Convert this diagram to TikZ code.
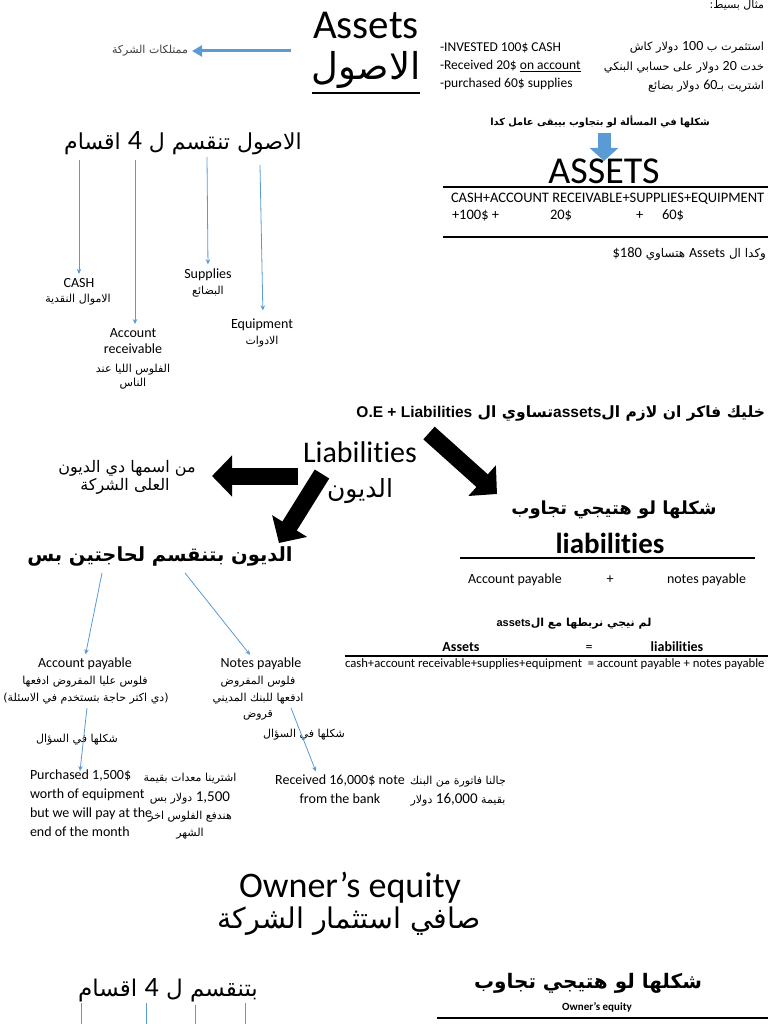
\documentclass[tikz,border=0pt]{standalone}
\usepackage{fontspec}
\setmainfont{Carlito}[Ligatures=CommonOff]
\newfontfamily\arabicfont[Script=Arabic]{DejaVu Sans}
\newfontfamily\arialfont{Liberation Sans}
\TeXXeTstate=1
\usetikzlibrary{arrows.meta}
\definecolor{lblue}{HTML}{5B9BD5}
\definecolor{dgray}{HTML}{404040}
\newcommand{\fsz}[2]{\fontsize{#1}{#2}\selectfont}
\begin{document}
\begin{tikzpicture}[x=1pt,y=-1pt,
  txt/.style={inner sep=0pt, outer sep=0pt},
  ar/.style={txt},
  bluearrow/.style={draw=lblue, line width=0.8pt, -{Stealth[length=5pt,width=4.5pt]}},
  blockarrow/.style={draw=black, line width=17pt, -{Triangle[length=20pt,width=40pt]}},
  rule/.style={draw=black, line width=1.6pt},
  bluerule/.style={draw=lblue, line width=0.8pt}]
\useasboundingbox (0,0) rectangle (768,1024);
\fill[white] (0,0) rectangle (768,1024);

% ---- Assets title
\node[txt, anchor=base, font=\fsz{41}{45}] (assetsT) at (366,39) {Assets};
\node[ar, anchor=base, font={\arabicfont\fsz{37}{40}}] (asoolT) at (366,80) {\beginR الاصول\endR};
\draw[rule] (312,93) -- (420,93);
\node[ar, anchor=east, font={\arabicfont\fsz{11}{13}}, text=dgray] (mamt) at (188,51) {\beginR ممتلكات الشركة\endR};
\coordinate (aArrS) at (291,51);
\draw[draw=lblue, line width=3pt, -{Triangle[length=10pt,width=11pt]}] (aArrS) -- ([xshift=4pt]mamt.east);

% ---- simple example
\node[ar, anchor=base east, font={\arabicfont\fsz{11}{13}}] (mithal) at (764,9) {\beginR مثال بسيط:\endR};
\node[txt, anchor=base west, font=\fsz{13.5}{16}] (inv) at (440,52) {-INVESTED 100\$ CASH};
\node[txt, anchor=base west, font=\fsz{13.5}{16}] (rec) at (440,70) {-Received 20\$ \underline{on account}};
\node[txt, anchor=base west, font=\fsz{13.5}{16}] (pur) at (440,88) {-purchased 60\$ supplies};
\node[ar, anchor=base east, font={\arabicfont\fsz{11.3}{14}}] (ar1) at (764,51) {\beginR استثمرت ب {\rmfamily\fsz{14}{16}100} دولار كاش\endR};
\node[ar, anchor=base east, font={\arabicfont\fsz{11.3}{14}}] (ar2) at (764,71) {\beginR خدت {\rmfamily\fsz{14}{16}20} دولار على حسابي البنكي\endR};
\node[ar, anchor=base east, font={\arabicfont\fsz{11.3}{14}}] (ar3) at (764,90) {\beginR اشتريت بـ{\rmfamily\fsz{14}{16}60} دولار بضائع\endR};
\node[ar, anchor=base, font={\arabicfont\bfseries\fsz{9.8}{12}}] (shak1) at (600,126) {\beginR شكلها في المسألة لو بتجاوب بيبقى عامل كدا\endR};
\coordinate (bdS) at (604,133);
\coordinate (bdE) at (604,161);
\draw[draw=lblue, line width=13pt, -{Triangle[length=13pt,width=28pt]}] (bdS) -- (bdE);
\node[txt, anchor=base, font=\fsz{38}{40}] (ASSETS) at (604,184) {ASSETS};
\draw[rule] (443,187) -- (768,187);
\node[txt, anchor=base west, font=\fsz{14.5}{16}] (cashrow) at (451,203) {CASH+ACCOUNT RECEIVABLE+SUPPLIES+EQUIPMENT};
\node[txt, anchor=base west, font=\fsz{14.5}{16}] (v1) at (452,220) {+100\$ +};
\node[txt, anchor=base west, font=\fsz{14.5}{16}] (v2) at (550,220) {20\$};
\node[txt, anchor=base west, font=\fsz{14.5}{16}] (v3) at (636,220) {+};
\node[txt, anchor=base west, font=\fsz{14.5}{16}] (v4) at (662,220) {60\$};
\draw[rule] (443,237) -- (768,237);
\node[ar, anchor=base east, font={\arabicfont\fsz{12}{14}}] (total) at (766,258) {\beginR وكدا ال {\rmfamily\fsz{14}{16}Assets} هتساوي \beginL{\rmfamily\fsz{14.5}{16}\$180}\endL\endR};

% ---- four categories of assets
\node[ar, anchor=base, font={\arabicfont\fsz{22}{26}}] (tanqasem) at (183,150) {\beginR الاصول تنقسم ل {\rmfamily\fsz{28}{28}4} اقسام\endR};
\node[txt, anchor=base, font=\fsz{14}{16}] (cash) at (79,287) {CASH};
\node[ar, anchor=base, font={\arabicfont\fsz{11}{13}}] (cashAr) at (78,302) {\beginR الاموال النقدية\endR};
\node[txt, anchor=base, font=\fsz{14}{16}] (acc) at (133,337) {Account};
\node[txt, anchor=base, font=\fsz{14}{16}] (acc2) at (133,353) {receivable};
\node[ar, anchor=base, font={\arabicfont\fsz{11}{13}}] (accAr) at (133,372) {\beginR الفلوس الليا عند\endR};
\node[ar, anchor=base, font={\arabicfont\fsz{11}{13}}] (accAr2) at (133,386) {\beginR الناس\endR};
\node[txt, anchor=base, font=\fsz{14}{16}] (sup) at (208,278) {Supplies};
\node[ar, anchor=base, font={\arabicfont\fsz{11}{13}}] (supAr) at (208,294) {\beginR البضائع\endR};
\node[txt, anchor=base, font=\fsz{14}{16}] (equ) at (262,328) {Equipment};
\node[ar, anchor=base, font={\arabicfont\fsz{11}{13}}] (equAr) at (262,344) {\beginR الادوات\endR};
\coordinate (c1) at (79,160);
\coordinate (c2) at (135,160);
\coordinate (c3) at (207,157);
\coordinate (c4) at (260,165);
\draw[bluearrow, shorten >=4pt] (c1) -- (cash.north);
\draw[bluearrow, shorten >=4pt] (c2) -- ([xshift=2pt]acc.north);
\draw[bluearrow, shorten >=4pt] (c3) -- (sup.north);
\draw[bluearrow, shorten >=8pt] (c4) -- ([xshift=1pt]equ.north);

% ---- reminder
\node[ar, anchor=base east, font={\arabicfont\bfseries\fsz{15.5}{17}}] (remind) at (765,417) {\beginR خليك فاكر ان لازم ال\beginL{\arialfont\bfseries assets}\endL تساوي ال \beginL{\arialfont\bfseries O.E + Liabilities}\endL\endR};

% ---- Liabilities
\node[txt, anchor=base, font=\fsz{30}{32}] (liab) at (360,462) {Liabilities};
\node[ar, anchor=base, font={\arabicfont\fsz{25}{28}}] (duyun) at (360,497) {\beginR الديون\endR};
\node[ar, anchor=base, font={\arabicfont\fsz{16}{18}}] (minism) at (127,472) {\beginR من اسمها دي الديون\endR};
\node[ar, anchor=base, font={\arabicfont\fsz{16}{18}}] (minism2) at (125,490) {\beginR العلى الشركة\endR};
\coordinate (la1) at (298,476);
\coordinate (la2) at (212,476);
\coordinate (ra1) at (429,433);
\coordinate (ra2) at (497,494);
\coordinate (da1) at (322,474);
\coordinate (da2) at (279,543);
\draw[blockarrow] (la1) -- (la2);
\draw[blockarrow] (ra1) -- (ra2);
\draw[blockarrow] (da1) -- (da2);
\node[ar, anchor=base, font={\arabicfont\bfseries\fsz{19.5}{24}}] (split) at (160,561) {\beginR الديون بتنقسم لحاجتين بس\endR};

% right: liabilities answer
\node[ar, anchor=base, font={\arabicfont\bfseries\fsz{18}{20}}] (shak2) at (614,514) {\beginR شكلها لو هتيجي تجاوب\endR};
\node[txt, anchor=base, font=\bfseries\fsz{29}{30}] (liab2) at (610,553) {liabilities};
\draw[rule] (460,558) -- (755,558);
\node[txt, anchor=base west, font=\fsz{14}{16}] (ap) at (468,583) {Account payable};
\node[txt, anchor=base, font=\fsz{14}{16}] (plus) at (610,583) {+};
\node[txt, anchor=base west, font=\fsz{14}{16}] (np) at (667,583) {notes payable};
\node[ar, anchor=base, font={\arabicfont\bfseries\fsz{11}{13}}] (link) at (574,626) {\beginR لم نيجي نربطها مع ال\beginL{\arialfont\bfseries assets}\endL\endR};
\node[txt, anchor=base, font=\bfseries\fsz{14}{16}] (eqA) at (461,651) {Assets};
\node[txt, anchor=base, font=\fsz{14}{16}] (eqS) at (589,651) {=};
\node[txt, anchor=base, font=\bfseries\fsz{14}{16}] (eqL) at (677,651) {liabilities};
\draw[rule] (345,656) -- (768,656);
\node[txt, anchor=base west, font=\fsz{12.7}{14}] (eqline) at (345,667) {cash+account receivable+supplies+equipment \ = account payable + notes payable};

% left: two kinds
\coordinate (s1) at (102,573);
\coordinate (s2) at (185,573);
\node[txt, anchor=base, font=\fsz{14}{16}] (apay) at (85,667) {Account payable};
\node[txt, anchor=base, font=\fsz{14}{16}] (npay) at (261,667) {Notes payable};
\draw[bluearrow, shorten >=3pt] (s1) -- (apay.north);
\draw[bluearrow, shorten >=3pt] (s2) -- ([xshift=-9pt]npay.north);
\node[ar, anchor=base, font={\arabicfont\fsz{11}{13}}] (apAr1) at (85,684) {\beginR فلوس عليا المفروض ادفعها\endR};
\node[ar, anchor=base, font={\arabicfont\fsz{11}{13}}] (apAr2) at (86,701) {\beginR (دي اكتر حاجة بتستخدم في الاسئلة)\endR};
\node[ar, anchor=base, font={\arabicfont\fsz{11}{13}}] (npAr1) at (258,684) {\beginR فلوس المفروض\endR};
\node[ar, anchor=base, font={\arabicfont\fsz{11}{13}}] (npAr2) at (258,701) {\beginR ادفعها للبنك المديني\endR};
\node[ar, anchor=base, font={\arabicfont\fsz{11}{13}}] (npAr3) at (258,717) {\beginR قروض\endR};

\node[ar, anchor=base, font={\arabicfont\fsz{11}{13}}] (q1) at (77,742) {\beginR شكلها في السؤال\endR};
\node[ar, anchor=base, font={\arabicfont\fsz{11}{13}}] (q2) at (304,737) {\beginR شكلها في السؤال\endR};
\node[txt, anchor=north west, align=left, font=\fsz{14}{19}] (purch) at (30,770) {Purchased 1,500\$\\worth of equipment\\but we will pay at the\\end of the month};
\coordinate (p1S) at (87,708);
\coordinate (p2S) at (291,708);
\draw[bluearrow] (p1S) -- ([xshift=50pt,yshift=-1pt]purch.north west);
\node[ar, anchor=base, font={\arabicfont\fsz{11}{13}}] (pAr1) at (190,781) {\beginR اشترينا معدات بقيمة\endR};
\node[ar, anchor=base, font={\arabicfont\fsz{11}{13}}] (pAr2) at (190,801) {\beginR {\rmfamily\fsz{15}{16}1,500} دولار بس\endR};
\node[ar, anchor=base, font={\arabicfont\fsz{11}{13}}] (pAr3) at (190,819) {\beginR هندفع الفلوس اخر\endR};
\node[ar, anchor=base, font={\arabicfont\fsz{11}{13}}] (pAr4) at (190,836) {\beginR الشهر\endR};
\node[txt, anchor=base, font=\fsz{14}{16}] (recv) at (340,784) {Received 16,000\$ note};
\node[txt, anchor=base, font=\fsz{14}{16}] (recv2) at (340,803) {from the bank};
\draw[bluearrow, shorten >=3pt] (p2S) -- ([xshift=-23pt]recv.north);
\node[ar, anchor=base, font={\arabicfont\fsz{11}{13}}] (rAr1) at (458,784) {\beginR جالنا فاتورة من البنك\endR};
\node[ar, anchor=base, font={\arabicfont\fsz{11}{13}}] (rAr2) at (458,803) {\beginR بقيمة {\rmfamily\fsz{15}{16}16,000} دولار\endR};

% ---- Owner's equity
\node[txt, anchor=base, font=\fsz{36}{40}] (oe) at (350,897) {Owner’s equity};
\node[ar, anchor=base, font={\arabicfont\fsz{28.5}{32}}] (oeAr) at (349,928) {\beginR صافي استثمار الشركة\endR};
\node[ar, anchor=base, font={\arabicfont\fsz{23}{26}}] (oeSplit) at (168,996) {\beginR بتنقسم ل {\rmfamily\fsz{28}{28}4} اقسام\endR};
\coordinate (o1) at (81,1003); \coordinate (o1e) at (81,1024);
\coordinate (o2) at (146,1003); \coordinate (o2e) at (146,1024);
\coordinate (o3) at (195,1005); \coordinate (o3e) at (195,1024);
\coordinate (o4) at (245,1003); \coordinate (o4e) at (245,1024);
\draw[bluerule] (o1) -- (o1e);
\draw[bluerule] (o2) -- (o2e);
\draw[bluerule] (o3) -- (o3e);
\draw[bluerule] (o4) -- (o4e);
\node[ar, anchor=base, font={\arabicfont\bfseries\fsz{20}{22}}] (shak3) at (588,988) {\beginR شكلها لو هتيجي تجاوب\endR};
\node[txt, anchor=base, font=\bfseries\fsz{11}{13}] (oe2) at (597,1010) {Owner’s equity};
\draw[rule] (437,1018) -- (768,1018);
\end{tikzpicture}
\end{document}
